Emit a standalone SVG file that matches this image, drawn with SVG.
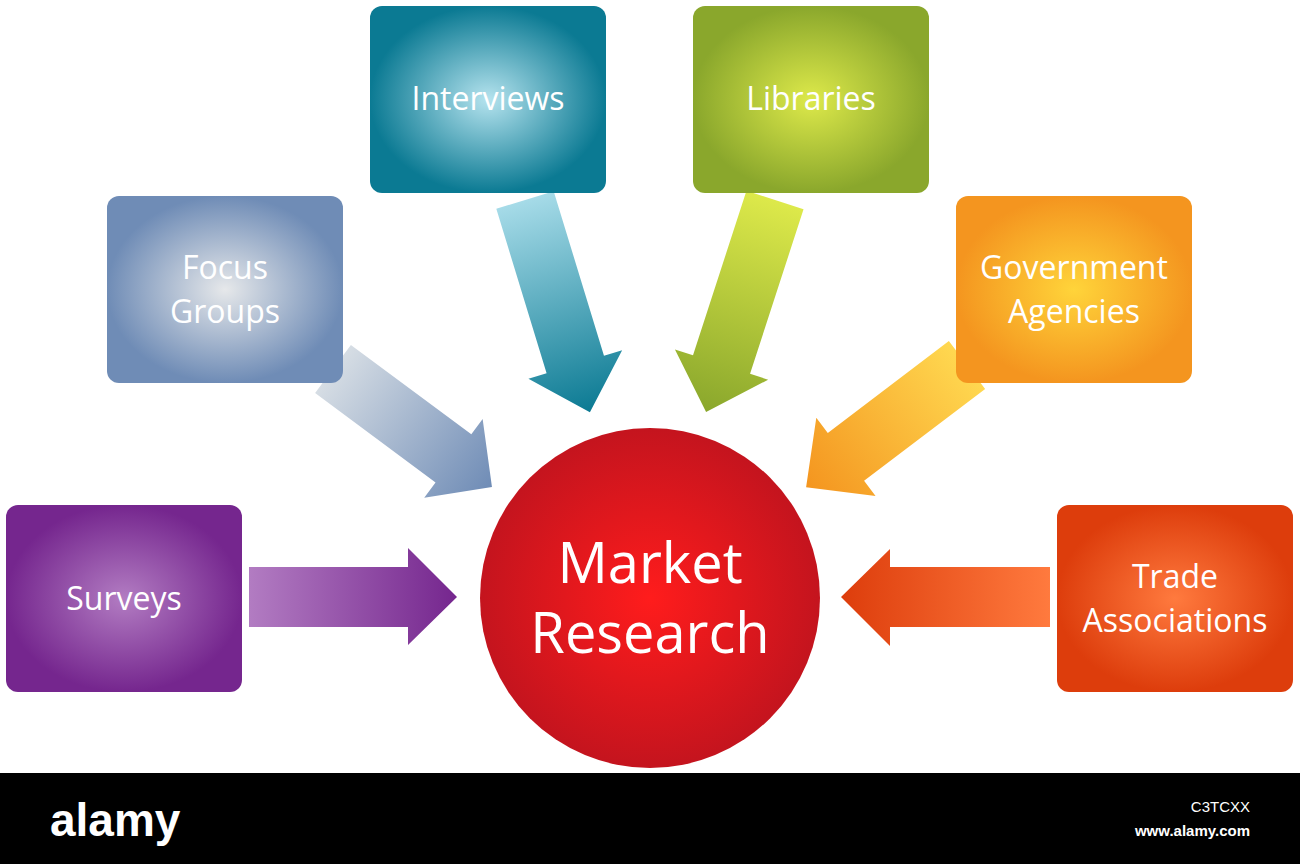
<svg xmlns="http://www.w3.org/2000/svg" width="1300" height="864" viewBox="0 0 1300 864">
<style>
.t{font-family:"Open Sans","DejaVu Sans",sans-serif;fill:#fff;font-size:32px;text-anchor:middle}
.big{font-size:56px}
</style>
<defs>
<radialGradient id="gTeal"><stop offset="0" stop-color="#b5e3ee"/><stop offset="1" stop-color="#0b7a93"/></radialGradient>
<radialGradient id="gOlive"><stop offset="0" stop-color="#dde94a"/><stop offset="1" stop-color="#8aa72c"/></radialGradient>
<radialGradient id="gBlue"><stop offset="0" stop-color="#e6e8ea"/><stop offset="1" stop-color="#6f8cb6"/></radialGradient>
<radialGradient id="gOrange"><stop offset="0" stop-color="#ffd43a"/><stop offset="1" stop-color="#f4951f"/></radialGradient>
<radialGradient id="gPurple"><stop offset="0" stop-color="#b27cc2"/><stop offset="1" stop-color="#75268e"/></radialGradient>
<radialGradient id="gRed"><stop offset="0" stop-color="#ff7a3e"/><stop offset="1" stop-color="#dd3d0c"/></radialGradient>
<radialGradient id="gCircle"><stop offset="0" stop-color="#ff1c1c"/><stop offset="1" stop-color="#c4141e"/></radialGradient>
<linearGradient id="aTeal"><stop offset="0" stop-color="#a6dbe8"/><stop offset="1" stop-color="#0b7a93"/></linearGradient>
<linearGradient id="aOlive"><stop offset="0" stop-color="#dde94a"/><stop offset="1" stop-color="#8aa72c"/></linearGradient>
<linearGradient id="aBlue"><stop offset="0" stop-color="#d6dde4"/><stop offset="1" stop-color="#6f8cb6"/></linearGradient>
<linearGradient id="aOrange"><stop offset="0" stop-color="#ffd850"/><stop offset="1" stop-color="#f4951f"/></linearGradient>
<linearGradient id="aPurple"><stop offset="0" stop-color="#b27cc2"/><stop offset="1" stop-color="#75268e"/></linearGradient>
<linearGradient id="aRed"><stop offset="0" stop-color="#ff7a3e"/><stop offset="1" stop-color="#dd3d0c"/></linearGradient>
</defs>
<rect width="1300" height="864" fill="#fff"/>
<g id="connectors">
<path transform="translate(249,597)" d="M0,-30H159V-49L208,0L159,48V30H0Z" fill="url(#aPurple)"/>
<path transform="translate(1050,597) rotate(180)" d="M0,-30H160V-49L209,0L160,48V30H0Z" fill="url(#aRed)"/>
<path transform="translate(333,369) rotate(36.6)" d="M0,-30H150V-49L198,0L150,49V30H0Z" fill="url(#aBlue)"/>
<path transform="translate(525,200) rotate(73)" d="M0,-30H172V-49L222,0L172,49V30H0Z" fill="url(#aTeal)"/>
<path transform="translate(775,200) rotate(108)" d="M0,-30H173V-49L223,0L173,49V30H0Z" fill="url(#aOlive)"/>
<path transform="translate(967,365) rotate(142.8)" d="M0,-30H152V-49L202,0L152,49V30H0Z" fill="url(#aOrange)"/>
</g>
<g id="interviews"><rect x="370" y="6" width="236" height="187" rx="12" fill="url(#gTeal)"/><text class="t" x="488" y="110">Interviews</text></g>
<g id="libraries"><rect x="693" y="6" width="236" height="187" rx="12" fill="url(#gOlive)"/><text class="t" x="811" y="110">Libraries</text></g>
<g id="focus"><rect x="107" y="196" width="236" height="187" rx="12" fill="url(#gBlue)"/><text class="t" x="225" y="279">Focus</text><text class="t" x="225" y="323">Groups</text></g>
<g id="government"><rect x="956" y="196" width="236" height="187" rx="12" fill="url(#gOrange)"/><text class="t" x="1074" y="279">Government</text><text class="t" x="1074" y="323">Agencies</text></g>
<g id="surveys"><rect x="6" y="505" width="236" height="187" rx="12" fill="url(#gPurple)"/><text class="t" x="124" y="610">Surveys</text></g>
<g id="trade"><rect x="1057" y="505" width="236" height="187" rx="12" fill="url(#gRed)"/><text class="t" x="1175" y="588">Trade</text><text class="t" x="1175" y="632">Associations</text></g>
<g id="market"><circle cx="650" cy="598" r="170" fill="url(#gCircle)"/><text class="t big" x="650" y="583">Market</text><text class="t big" x="650" y="653">Research</text></g>
<g id="footer"><rect x="0" y="773" width="1300" height="91" fill="#000"/>
<text x="50" y="836" font-family="'Liberation Sans',Arial,sans-serif" font-weight="bold" font-size="46" fill="#fff">alamy</text>
<text x="1250" y="812" text-anchor="end" font-family="'Liberation Sans',Arial,sans-serif" font-size="15" fill="#fff">C3TCXX</text>
<text x="1250" y="836" text-anchor="end" font-family="'Liberation Sans',Arial,sans-serif" font-weight="bold" font-size="15" fill="#fff">www.alamy.com</text></g>
</svg>
